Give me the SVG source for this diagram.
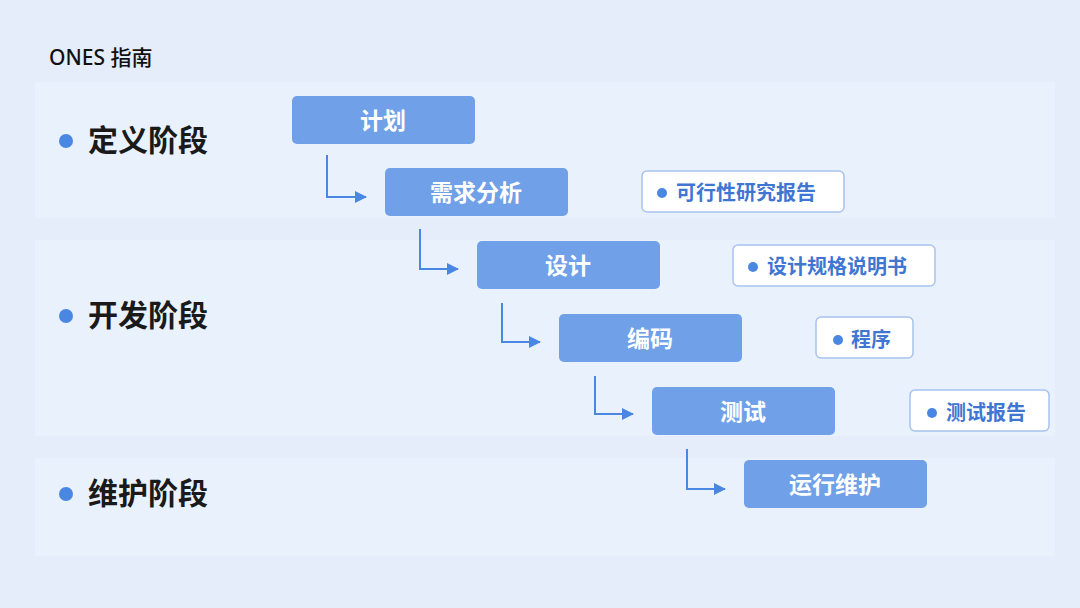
<svg xmlns="http://www.w3.org/2000/svg" width="1080" height="608" viewBox="0 0 1080 608">
<defs>
<style>
text{font-family:"Noto Sans CJK SC","Noto Sans",sans-serif;font-weight:700}
.band{fill:#e9f1fc}
.step rect{fill:#6fa0e8}
.step text{fill:#fff;font-size:23px;text-anchor:middle}
.out rect{fill:#fff;stroke:#a8c3ee;stroke-width:1.5}
.out text{fill:#3f76d2;font-size:20px}
.dot{fill:#4a87e2}
.phase{fill:#1a1a1a;font-size:30px}
.conn path{fill:none;stroke:#4a87e2;stroke-width:2}
</style>
<marker id="ah" markerWidth="12" markerHeight="12" refX="11" refY="6" orient="auto" markerUnits="userSpaceOnUse"><path d="M0,0 L12,6 L0,12Z" fill="#4a87e2"/></marker>
</defs>
<rect width="1080" height="608" fill="#e4edf9"/>
<text x="49" y="65" fill="#111" style="font-family:'Noto Sans','Noto Sans CJK SC',sans-serif;font-weight:500;font-size:21px">ONES 指南</text>
<rect class="band" x="35" y="82" width="1020" height="136"/>
<rect class="band" x="35" y="240" width="1020" height="196"/>
<rect class="band" x="35" y="458" width="1020" height="98"/>
<g id="phase1"><circle class="dot" cx="66" cy="141" r="7"/><text class="phase" x="88" y="151">定义阶段</text></g>
<g id="phase2"><circle class="dot" cx="66" cy="316" r="7"/><text class="phase" x="88" y="326">开发阶段</text></g>
<g id="phase3"><circle class="dot" cx="66" cy="494" r="7"/><text class="phase" x="88" y="504">维护阶段</text></g>
<g class="conn">
<path d="M327,155 V197 H366" marker-end="url(#ah)"/>
<path d="M420,229 V269 H458" marker-end="url(#ah)"/>
<path d="M502,303 V342 H540" marker-end="url(#ah)"/>
<path d="M595,376 V414 H633" marker-end="url(#ah)"/>
<path d="M687,449 V489 H725" marker-end="url(#ah)"/>
</g>
<g id="s1" class="step"><rect x="292" y="96" width="183" height="48" rx="5"/><text x="383" y="129">计划</text></g>
<g id="s2" class="step"><rect x="385" y="168" width="183" height="48" rx="5"/><text x="476" y="201">需求分析</text></g>
<g id="s3" class="step"><rect x="477" y="241" width="183" height="48" rx="5"/><text x="568" y="274">设计</text></g>
<g id="s4" class="step"><rect x="559" y="314" width="183" height="48" rx="5"/><text x="650" y="347">编码</text></g>
<g id="s5" class="step"><rect x="652" y="387" width="183" height="48" rx="5"/><text x="743" y="420">测试</text></g>
<g id="s6" class="step"><rect x="744" y="460" width="183" height="48" rx="5"/><text x="835" y="493">运行维护</text></g>
<g id="o1" class="out"><rect x="642" y="171" width="202" height="41" rx="5"/><circle class="dot" cx="662" cy="193" r="5"/><text x="676" y="200">可行性研究报告</text></g>
<g id="o2" class="out"><rect x="733" y="245" width="202" height="41" rx="5"/><circle class="dot" cx="753" cy="267" r="5"/><text x="767" y="274">设计规格说明书</text></g>
<g id="o3" class="out"><rect x="816" y="317" width="97" height="41" rx="5"/><circle class="dot" cx="838" cy="340" r="5"/><text x="851" y="347">程序</text></g>
<g id="o4" class="out"><rect x="910" y="390" width="139" height="41" rx="5"/><circle class="dot" cx="932" cy="413" r="5"/><text x="946" y="420">测试报告</text></g>
</svg>
